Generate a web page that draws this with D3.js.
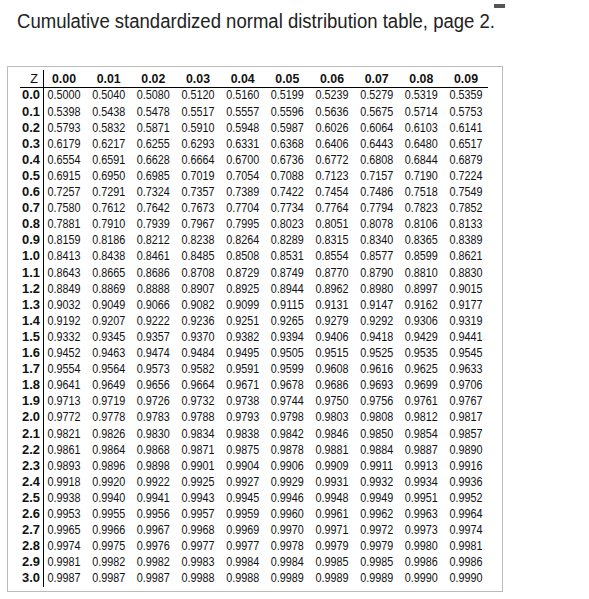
<!DOCTYPE html>
<html><head><meta charset="utf-8">
<script src="https://cdn.jsdelivr.net/npm/d3@7"></script>
<style>body{margin:0;background:#fff;}</style>
</head><body>
<svg id="c" width="589" height="599"></svg>
<script>
const title = "Cumulative standardized normal distribution table, page 2.";
const colLabels = ["0.00","0.01","0.02","0.03","0.04","0.05","0.06","0.07","0.08","0.09"];
const zLabels = ["0.0","0.1","0.2","0.3","0.4","0.5","0.6","0.7","0.8","0.9","1.0","1.1","1.2","1.3","1.4","1.5","1.6","1.7","1.8","1.9","2.0","2.1","2.2","2.3","2.4","2.5","2.6","2.7","2.8","2.9","3.0"];
const values = [
[0.5000,0.5040,0.5080,0.5120,0.5160,0.5199,0.5239,0.5279,0.5319,0.5359],
[0.5398,0.5438,0.5478,0.5517,0.5557,0.5596,0.5636,0.5675,0.5714,0.5753],
[0.5793,0.5832,0.5871,0.5910,0.5948,0.5987,0.6026,0.6064,0.6103,0.6141],
[0.6179,0.6217,0.6255,0.6293,0.6331,0.6368,0.6406,0.6443,0.6480,0.6517],
[0.6554,0.6591,0.6628,0.6664,0.6700,0.6736,0.6772,0.6808,0.6844,0.6879],
[0.6915,0.6950,0.6985,0.7019,0.7054,0.7088,0.7123,0.7157,0.7190,0.7224],
[0.7257,0.7291,0.7324,0.7357,0.7389,0.7422,0.7454,0.7486,0.7518,0.7549],
[0.7580,0.7612,0.7642,0.7673,0.7704,0.7734,0.7764,0.7794,0.7823,0.7852],
[0.7881,0.7910,0.7939,0.7967,0.7995,0.8023,0.8051,0.8078,0.8106,0.8133],
[0.8159,0.8186,0.8212,0.8238,0.8264,0.8289,0.8315,0.8340,0.8365,0.8389],
[0.8413,0.8438,0.8461,0.8485,0.8508,0.8531,0.8554,0.8577,0.8599,0.8621],
[0.8643,0.8665,0.8686,0.8708,0.8729,0.8749,0.8770,0.8790,0.8810,0.8830],
[0.8849,0.8869,0.8888,0.8907,0.8925,0.8944,0.8962,0.8980,0.8997,0.9015],
[0.9032,0.9049,0.9066,0.9082,0.9099,0.9115,0.9131,0.9147,0.9162,0.9177],
[0.9192,0.9207,0.9222,0.9236,0.9251,0.9265,0.9279,0.9292,0.9306,0.9319],
[0.9332,0.9345,0.9357,0.9370,0.9382,0.9394,0.9406,0.9418,0.9429,0.9441],
[0.9452,0.9463,0.9474,0.9484,0.9495,0.9505,0.9515,0.9525,0.9535,0.9545],
[0.9554,0.9564,0.9573,0.9582,0.9591,0.9599,0.9608,0.9616,0.9625,0.9633],
[0.9641,0.9649,0.9656,0.9664,0.9671,0.9678,0.9686,0.9693,0.9699,0.9706],
[0.9713,0.9719,0.9726,0.9732,0.9738,0.9744,0.9750,0.9756,0.9761,0.9767],
[0.9772,0.9778,0.9783,0.9788,0.9793,0.9798,0.9803,0.9808,0.9812,0.9817],
[0.9821,0.9826,0.9830,0.9834,0.9838,0.9842,0.9846,0.9850,0.9854,0.9857],
[0.9861,0.9864,0.9868,0.9871,0.9875,0.9878,0.9881,0.9884,0.9887,0.9890],
[0.9893,0.9896,0.9898,0.9901,0.9904,0.9906,0.9909,0.9911,0.9913,0.9916],
[0.9918,0.9920,0.9922,0.9925,0.9927,0.9929,0.9931,0.9932,0.9934,0.9936],
[0.9938,0.9940,0.9941,0.9943,0.9945,0.9946,0.9948,0.9949,0.9951,0.9952],
[0.9953,0.9955,0.9956,0.9957,0.9959,0.9960,0.9961,0.9962,0.9963,0.9964],
[0.9965,0.9966,0.9967,0.9968,0.9969,0.9970,0.9971,0.9972,0.9973,0.9974],
[0.9974,0.9975,0.9976,0.9977,0.9977,0.9978,0.9979,0.9979,0.9980,0.9981],
[0.9981,0.9982,0.9982,0.9983,0.9984,0.9984,0.9985,0.9985,0.9986,0.9986],
[0.9987,0.9987,0.9987,0.9988,0.9988,0.9989,0.9989,0.9989,0.9990,0.9990]
];
const svg = d3.select("#c");
const font = "'Liberation Sans', Arial, sans-serif";
svg.append("text").attr("x",17).attr("y",28).attr("font-family",font).attr("font-size",20)
  .attr("textLength",478).attr("lengthAdjust","spacingAndGlyphs")
  .attr("fill","#222").text(title);
svg.append("rect").attr("x",494).attr("y",4).attr("width",11).attr("height",4).attr("fill","#555");
svg.append("rect").attr("x",7.5).attr("y",66.5).attr("width",495).attr("height",525)
  .attr("fill","none").attr("stroke","#bbb").attr("stroke-width",1);
const x = d3.scalePoint().domain(colLabels).range([64,466]);
const y = d3.scalePoint().domain(zLabels).range([95,578]);
const g = svg.append("g").attr("font-family",font).attr("font-size",12.6).attr("fill","#111");
g.append("text").attr("x",38).attr("y",79).attr("dy","0.35em").attr("text-anchor","end").text("Z");
g.selectAll("text.h").data(colLabels).join("text").attr("class","h")
  .attr("x",d=>x(d)).attr("y",79).attr("dy","0.35em").attr("text-anchor","middle")
  .attr("font-weight","bold").attr("textLength",24).attr("lengthAdjust","spacingAndGlyphs").text(d=>d);
g.selectAll("text.z").data(zLabels).join("text").attr("class","z")
  .attr("x",40).attr("y",d=>y(d)).attr("dy","0.35em").attr("text-anchor","end")
  .attr("font-weight","bold").attr("textLength",18).attr("lengthAdjust","spacingAndGlyphs").text(d=>d);
const fmt = d3.format(".4f");
values.forEach((row,i)=>{
  g.selectAll(null).data(row).join("text")
    .attr("x",(d,j)=>x(colLabels[j])).attr("y",y(zLabels[i])).attr("dy","0.35em")
    .attr("text-anchor","middle").attr("textLength",33).attr("lengthAdjust","spacingAndGlyphs")
    .text(d=>fmt(d));
});
svg.append("line").attr("x1",20).attr("x2",488).attr("y1",87.5).attr("y2",87.5).attr("stroke","#000");
svg.append("line").attr("x1",43.5).attr("x2",43.5).attr("y1",70).attr("y2",587).attr("stroke","#000");
</script>
</body></html>
